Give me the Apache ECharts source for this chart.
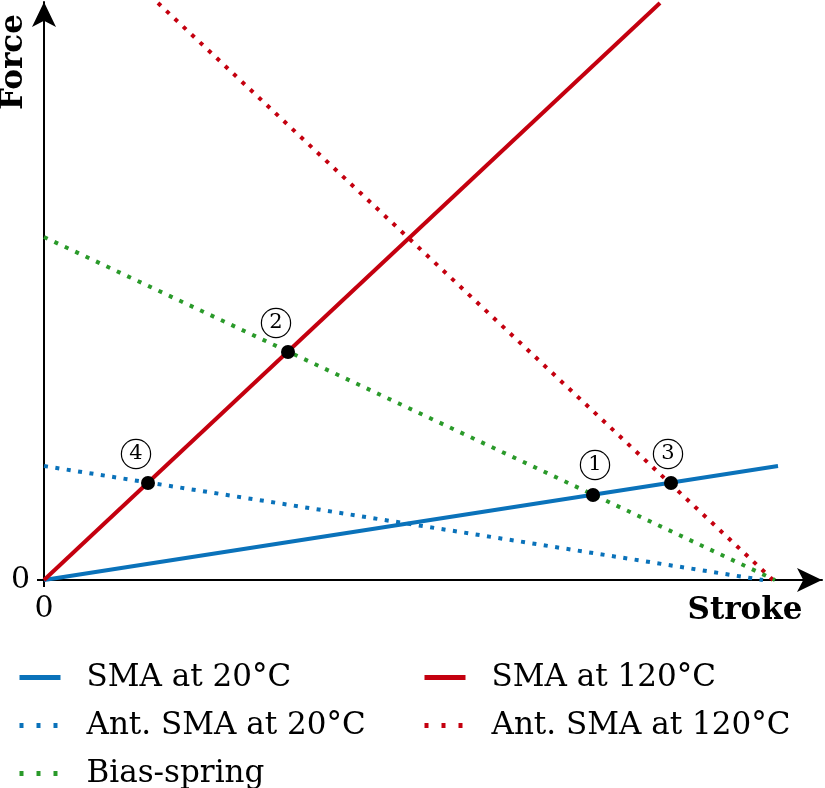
<!DOCTYPE html>
<html>
<head>
<meta charset="utf-8">
<script src="https://cdn.jsdelivr.net/npm/echarts@6/dist/echarts.min.js"></script>
<style>html,body{margin:0;padding:0;background:#fff;}#c{width:825px;height:788px;}</style>
</head>
<body>
<div id="c"></div>
<script>
// Data (arbitrary units: stroke, force)
const sma20 = [[0, 0], [73.4, 11.4]];
const sma120 = [[0, 0], [61.6, 57.7]];
const antSma20 = [[0, 11.4], [71.9, 0]];
const antSma120 = [[11.4, 57.7], [72.9, 0]];
const biasSpring = [[0, 34.3], [73.1, 0]];
const opPoints = [[54.9, 8.5], [24.4, 22.8], [62.7, 9.7], [10.4, 9.7]];
const opLabels = ['1', '2', '3', '4'];
const seriesNames = ['SMA at 20°C', 'SMA at 120°C', 'Ant. SMA at 20°C', 'Ant. SMA at 120°C', 'Bias-spring'];
const axisTickValues = [0];

const BLUE = '#0a72ba', RED = '#c4000f', GREEN = '#2a9a2a';
const SERIF = '"DejaVu Serif", serif';
const labelOffsets = [[2, -30], [-12, -29], [-3, -29], [-12, -29]];

const dotted = [4, 7.5];
function lineSeries(name, data, color, dashed) {
  return {
    name: name, type: 'line', data: data, symbol: 'none', clip: false,
    lineStyle: { color: color, width: 4, type: dashed ? dotted : 'solid', cap: 'butt' },
    itemStyle: { color: color }, z: dashed ? 2 : 3, animation: false
  };
}

const chart = echarts.init(document.getElementById('c'), null, { renderer: 'canvas' });
const axisCommon = {
  type: 'value', min: 0,
  splitLine: { show: false },
  axisLine: { show: true, lineStyle: { color: '#000', width: 2 }, symbol: ['none', 'arrow'], symbolSize: [18, 25] },
  axisTick: { show: true, customValues: axisTickValues, length: 7, lineStyle: { color: '#000', width: 2 } },
  axisLabel: { customValues: axisTickValues, color: '#000', fontSize: 30, fontFamily: SERIF, margin: 14 }
};
const legendText = { color: '#000', fontSize: 31, fontFamily: SERIF, lineHeight: 30, padding: [0, 0, 0, 21] };
function legendItem(name, color, dashed) {
  return {
    name: name,
    itemStyle: { opacity: 0, borderWidth: 0 },
    lineStyle: { color: color, width: 5, type: dashed ? [4, 13] : 'solid', cap: 'butt', opacity: 1 }
  };
}
const legendCommon = {
  orient: 'vertical', top: 662, height: 300, padding: 0, itemWidth: 41, itemHeight: 20, itemGap: 17,
  textStyle: legendText, selectedMode: false
};
chart.setOption({
  animation: false,
  grid: { left: 44, right: 3, top: 2, bottom: 208, containLabel: false },
  xAxis: Object.assign({}, axisCommon, { max: 77.8 }),
  yAxis: Object.assign({}, axisCommon, { max: 57.8 }),
  legend: [
    Object.assign({}, legendCommon, { left: 17,
      data: [legendItem(seriesNames[0], BLUE, false), legendItem(seriesNames[2], BLUE, true), legendItem(seriesNames[4], GREEN, true)] }),
    Object.assign({}, legendCommon, { left: 422,
      data: [legendItem(seriesNames[1], RED, false), legendItem(seriesNames[3], RED, true)] })
  ],
  graphic: [
    { type: 'text', x: 14, y: 62, rotation: Math.PI / 2,
      style: { text: 'Force', font: 'bold 31px ' + SERIF, fill: '#000', textAlign: 'center', textVerticalAlign: 'middle' } },
    { type: 'text', x: 745, y: 611,
      style: { text: 'Stroke', font: 'bold 31px ' + SERIF, fill: '#000', textAlign: 'center', textVerticalAlign: 'middle' } }
  ],
  series: [
    lineSeries(seriesNames[2], antSma20, BLUE, true),
    lineSeries(seriesNames[3], antSma120, RED, true),
    lineSeries(seriesNames[4], biasSpring, GREEN, true),
    lineSeries(seriesNames[0], sma20, BLUE, false),
    lineSeries(seriesNames[1], sma120, RED, false),
    {
      name: 'points', type: 'scatter', symbolSize: 14, z: 5, clip: false,
      itemStyle: { color: '#000', opacity: 1 },
      data: opPoints.map((p, i) => ({
        value: p,
        label: {
          show: true, position: 'inside', offset: labelOffsets[i],
          formatter: opLabels[i], color: '#000', fontSize: 21, fontFamily: SERIF,
          width: 28, height: 28, lineHeight: 28, align: 'center', verticalAlign: 'middle',
          borderColor: '#000', borderWidth: 1.2, borderRadius: 15, backgroundColor: '#fff'
        }
      }))
    }
  ]
});
</script>
</body>
</html>
